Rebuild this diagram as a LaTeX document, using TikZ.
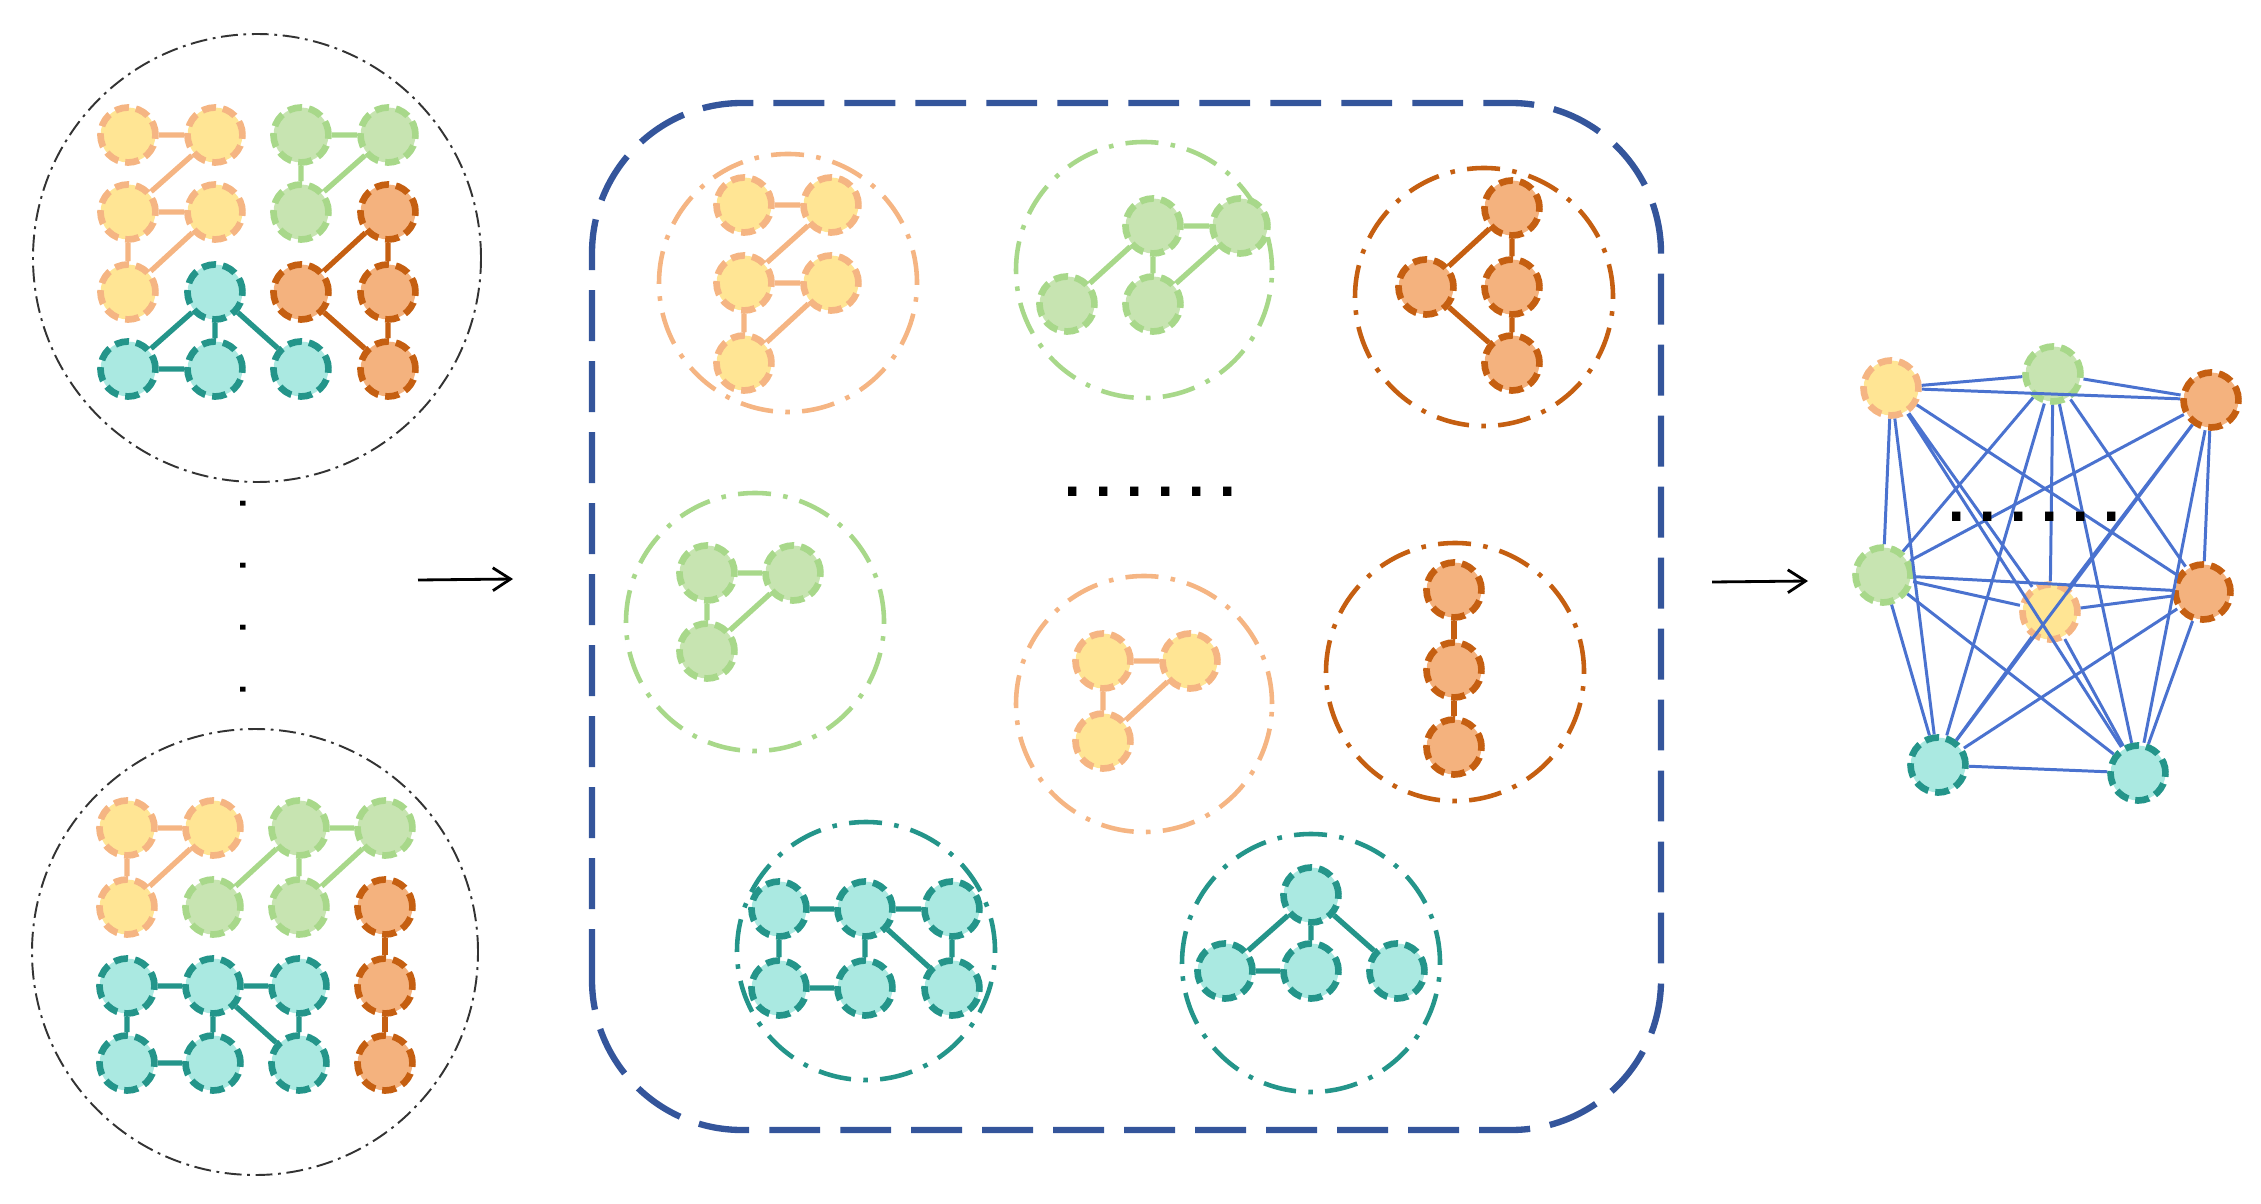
\documentclass[tikz,border=0pt]{standalone}
\usepackage{fontspec}
\newfontfamily\dotfont{Liberation Sans}
\usetikzlibrary{arrows.meta,positioning}
\definecolor{yfill}{RGB}{255,229,148}
\definecolor{yline}{RGB}{245,181,131}
\definecolor{gfill}{RGB}{199,228,177}
\definecolor{gline}{RGB}{168,216,138}
\definecolor{tfill}{RGB}{170,233,225}
\definecolor{tline}{RGB}{36,149,138}
\definecolor{ofill}{RGB}{244,178,126}
\definecolor{oline}{RGB}{197,95,17}
\definecolor{boxblue}{RGB}{52,85,155}
\definecolor{eblue}{RGB}{74,114,207}
\newcommand{\sixdots}{.\kern1.9pt.\kern1.9pt.\kern1.9pt.\kern1.9pt.\kern1.9pt.}
\newcommand{\fourdots}{.\kern13.55pt.\kern13.55pt.\kern13.55pt.}

\begin{document}
\begin{tikzpicture} [{place/.style={circle,line width=1.9pt,dash pattern=on 4pt off 2pt,minimum size=0.55cm,inner sep=0pt}},{ynode/.style={place,draw=yline,fill=yfill}},{gnode/.style={place,draw=gline,fill=gfill}},{tnode/.style={place,draw=tline,fill=tfill}},{onode/.style={place,draw=oline,fill=ofill}},{yedge/.style={draw=yline,line width=1.5pt}},{gedge/.style={draw=gline,line width=1.5pt}},{tedge/.style={draw=tline,line width=1.5pt}},{oedge/.style={draw=oline,line width=1.5pt}},{sample/.style={draw=black!80,line width=0.55pt,dash pattern=on 4.8pt off 1.6pt on 0.8pt off 1.6pt}},{part/.style={line width=1.3pt,dash pattern=on 9.4pt off 3.5pt on 1.3pt off 3.5pt}},{panel/.style={draw=boxblue,line width=1.8pt,dash pattern=on 14.5pt off 5.7pt,rounded corners=1.5cm}},{linkall/.style={draw=eblue,line width=0.85pt}},{dotrow/.style={font=\dotfont\fontsize{25pt}{25pt}\selectfont,inner sep=0pt,anchor=base}}]
		\useasboundingbox (0,0) rectangle (22.61,12.03);
		%%first sample graph
		\draw [sample] (2.57,9.45) circle (2.24);
		\node at (1.28,10.68) [ynode] (a11) {};
		\node at (2.15,10.68) [ynode] (a12) {};
		\node at (3.01,10.68) [gnode] (a13) {};
		\node at (3.88,10.68) [gnode] (a14) {};
		\node at (1.28,9.91) [ynode] (a21) {};
		\node at (2.15,9.91) [ynode] (a22) {};
		\node at (3.01,9.91) [gnode] (a23) {};
		\node at (3.88,9.91) [onode] (a24) {};
		\node at (1.28,9.11) [ynode] (a31) {};
		\node at (2.15,9.11) [tnode] (a32) {};
		\node at (3.01,9.11) [onode] (a33) {};
		\node at (3.88,9.11) [onode] (a34) {};
		\node at (1.28,8.34) [tnode] (a41) {};
		\node at (2.15,8.34) [tnode] (a42) {};
		\node at (3.01,8.34) [tnode] (a43) {};
		\node at (3.88,8.34) [onode] (a44) {};
		\draw [yedge] (a11) -- (a12) -- (a21) -- (a22) -- (a31) -- (a21);
		\draw [gedge] (a14) -- (a13) -- (a23) -- (a14);
		\draw [tedge] (a42) -- (a41) -- (a32) -- (a42) (a32) -- (a43);
		\draw [oedge] (a24) -- (a33) -- (a44) -- (a34) -- (a24);
		
		%%vertical dots
		\node at (2.404,6.06) [dotrow,rotate=-90,font=\dotfont\fontsize{14.7pt}{14.7pt}\selectfont] (vd) {\fourdots};
		
		%%second sample graph
		\draw [sample] (2.55,2.51) circle (2.23);
		\node at (1.27,3.75) [ynode] (b11) {};
		\node at (2.13,3.75) [ynode] (b12) {};
		\node at (2.99,3.75) [gnode] (b13) {};
		\node at (3.85,3.75) [gnode] (b14) {};
		\node at (1.27,2.96) [ynode] (b21) {};
		\node at (2.13,2.96) [gnode] (b22) {};
		\node at (2.99,2.96) [gnode] (b23) {};
		\node at (3.85,2.96) [onode] (b24) {};
		\node at (1.27,2.17) [tnode] (b31) {};
		\node at (2.13,2.17) [tnode] (b32) {};
		\node at (2.99,2.17) [tnode] (b33) {};
		\node at (3.85,2.17) [onode] (b34) {};
		\node at (1.27,1.40) [tnode] (b41) {};
		\node at (2.13,1.40) [tnode] (b42) {};
		\node at (2.99,1.40) [tnode] (b43) {};
		\node at (3.85,1.40) [onode] (b44) {};
		\draw [yedge] (b11) -- (b12) -- (b21) -- (b11);
		\draw [gedge] (b22) -- (b13) -- (b14) -- (b23) -- (b13);
		\draw [oedge] (b24) -- (b34) -- (b44);
		\draw [tedge] (b41) -- (b31) -- (b32) -- (b33) -- (b43) -- (b32) -- (b42) -- (b41);
		
		%%arrows
		\coordinate (p1) at (4.18,6.23);
		\coordinate (p2) at (5.13,6.24);
		\coordinate (q1) at (17.12,6.21);
		\coordinate (q2) at (18.08,6.22);
		\draw [-{Straight Barb[length=5pt,width=6.5pt]},line width=0.8pt] (p1) -- (p2);
		\draw [-{Straight Barb[length=5pt,width=6.5pt]},line width=0.8pt] (q1) -- (q2);
		
		%%subgraph panel
		\draw [panel] (5.92,0.73) rectangle (16.61,11.00);
		%%yellow part
		\draw [part,draw=yline] (7.88,9.20) circle (1.29);
		\node at (7.44,9.98) [ynode] (c1) {};
		\node at (8.31,9.98) [ynode] (c2) {};
		\node at (7.44,9.20) [ynode] (c3) {};
		\node at (8.31,9.20) [ynode] (c4) {};
		\node at (7.44,8.40) [ynode] (c5) {};
		\draw [yedge] (c1) -- (c2) -- (c3) -- (c4) -- (c5) -- (c3);
		%%green part
		\draw [part,draw=gline] (11.44,9.33) circle (1.28);
		\node at (11.53,9.77) [gnode] (d1) {};
		\node at (12.40,9.77) [gnode] (d2) {};
		\node at (10.67,8.99) [gnode] (d3) {};
		\node at (11.53,8.99) [gnode] (d4) {};
		\draw [gedge] (d3) -- (d1) -- (d2) -- (d4) -- (d1);
		%%orange part
		\draw [part,draw=oline] (14.84,9.06) circle (1.29);
		\node at (15.12,9.95) [onode] (e1) {};
		\node at (14.26,9.16) [onode] (e2) {};
		\node at (15.12,9.16) [onode] (e3) {};
		\node at (15.12,8.40) [onode] (e4) {};
		\draw [oedge] (e3) -- (e1) -- (e2) -- (e4) -- (e3);
		%%green part
		\draw [part,draw=gline] (7.55,5.81) circle (1.29);
		\node at (7.07,6.30) [gnode] (f1) {};
		\node at (7.93,6.30) [gnode] (f2) {};
		\node at (7.07,5.52) [gnode] (f3) {};
		\draw [gedge] (f3) -- (f1) -- (f2) -- (f3);
		%%yellow part
		\draw [part,draw=yline] (11.44,4.99) circle (1.28);
		\node at (11.03,5.42) [ynode] (g1) {};
		\node at (11.90,5.42) [ynode] (g2) {};
		\node at (11.03,4.62) [ynode] (g3) {};
		\draw [yedge] (g3) -- (g1) -- (g2) -- (g3);
		%%orange part
		\draw [part,draw=oline] (14.55,5.31) circle (1.29);
		\node at (14.54,6.13) [onode] (h1) {};
		\node at (14.54,5.33) [onode] (h2) {};
		\node at (14.54,4.56) [onode] (h3) {};
		\draw [oedge] (h1) -- (h2) -- (h3);
		%%teal part
		\draw [part,draw=tline] (8.66,2.52) circle (1.29);
		\node at (7.79,2.94) [tnode] (i1) {};
		\node at (8.65,2.94) [tnode] (i2) {};
		\node at (9.52,2.94) [tnode] (i3) {};
		\node at (7.79,2.15) [tnode] (i4) {};
		\node at (8.65,2.15) [tnode] (i5) {};
		\node at (9.52,2.15) [tnode] (i6) {};
		\draw [tedge] (i5) -- (i4) -- (i1) -- (i2) -- (i3) -- (i6) -- (i2) -- (i5);
		%%teal part
		\draw [part,draw=tline] (13.11,2.40) circle (1.29);
		\node at (13.11,3.08) [tnode] (j1) {};
		\node at (12.25,2.32) [tnode] (j2) {};
		\node at (13.11,2.32) [tnode] (j3) {};
		\node at (13.97,2.32) [tnode] (j4) {};
		\draw [tedge] (j4) -- (j1) -- (j2) -- (j3) -- (j1);
		\node at (11.50,7.065) [dotrow] (md) {\sixdots};
		
		%%merged graph
		\node at (18.91,8.15) [ynode] (ya) {};
		\node at (20.53,8.29) [gnode] (ga) {};
		\node at (22.11,8.03) [onode] (oa) {};
		\node at (18.83,6.28) [gnode] (gb) {};
		\node at (20.50,5.91) [ynode] (yb) {};
		\node at (22.03,6.11) [onode] (ob) {};
		\node at (19.38,4.38) [tnode] (ta) {};
		\node at (21.38,4.30) [tnode] (tb) {};
		\draw [linkall] (ya) -- (ga) -- (oa) -- (ya) -- (gb) -- (ga) -- (yb) -- (ya) -- (ob) -- (ga) -- (ta) -- (ya) -- (tb) -- (ga);
		\draw [linkall] (oa) -- (gb) -- (yb) -- (oa) -- (ob) -- (gb) -- (ta) -- (oa) -- (tb) -- (gb);
		\draw [linkall] (yb) -- (ob) -- (ta) -- (yb) -- (tb) -- (ob) (ta) -- (tb);
		\node at (20.34,6.815) [dotrow] (rd) {\sixdots};
		
	\end{tikzpicture}
\end{document}
